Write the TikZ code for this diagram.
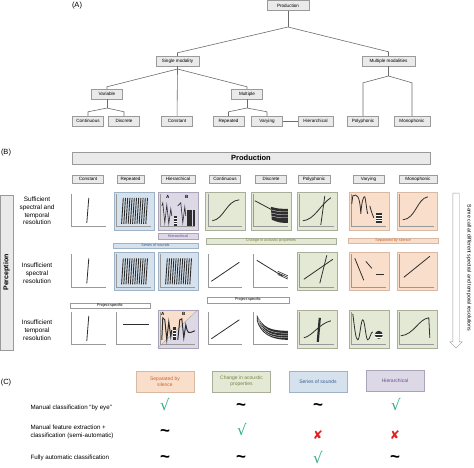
\documentclass[tikz,border=0pt]{standalone}
\usepackage{fontspec}
\setmainfont{Liberation Sans}
\newfontfamily\symfont{DejaVu Sans}
\usetikzlibrary{positioning,shapes.arrows}

\definecolor{boxgray}{HTML}{EAEAEA}
\definecolor{edgegray}{HTML}{9A9A9A}
\definecolor{bluefill}{HTML}{D5E2EE}
\definecolor{blueedge}{HTML}{9FB3C8}
\definecolor{greenfill}{HTML}{E4E9D5}
\definecolor{greenedge}{HTML}{A9AE98}
\definecolor{peachfill}{HTML}{F9DFCB}
\definecolor{peachedge}{HTML}{D9B9A2}
\definecolor{lavfill}{HTML}{DCD8E6}
\definecolor{lavedge}{HTML}{A9A4BA}
\definecolor{ink}{HTML}{2E2E2E}
\definecolor{silencetxt}{HTML}{C8662E}
\definecolor{changetxt}{HTML}{7C8244}
\definecolor{seriestxt}{HTML}{3C5C8C}
\definecolor{hiertxt}{HTML}{6C4C8C}
\definecolor{checkgreen}{HTML}{2FAF7F}
\definecolor{crossred}{HTML}{E02222}

\tikzset{treebox/.style={draw=edgegray, fill=boxgray, font=\fontsize{4.6}{5}\selectfont,
                          inner sep=1pt, minimum height=10pt, minimum width=31pt},
        headbox/.style={treebox, minimum height=8pt},
        treeline/.style={draw=gray!85!black, line width=0.6pt},
        panel/.style={minimum width=40pt, minimum height=38pt, inner sep=0pt},
        bluepanel/.style={panel, draw=blueedge, fill=bluefill},
        greenpanel/.style={panel, draw=greenedge, fill=greenfill},
        peachpanel/.style={panel, draw=peachedge, fill=peachfill},
        lavpanel/.style={panel, draw=lavedge, fill=lavfill},
        tagbar/.style={inner sep=0pt, minimum height=5.5pt, font=\fontsize{3.8}{4}\selectfont},
        rowlabel/.style={font=\fontsize{6.4}{7.8}\selectfont, align=center},
        methodlabel/.style={font=\fontsize{6.2}{7.4}\selectfont, align=left, anchor=west},
        colhead/.style={minimum width=58pt, minimum height=21pt, inner sep=1pt,
                        font=\fontsize{5}{6.2}\selectfont, align=center},
        axisline/.style={draw=gray!80, line width=0.8pt},
        trace/.style={draw=ink, line width=0.8pt},
        okmark/.style={text=checkgreen, font=\symfont\fontsize{15}{15}\selectfont},
        nomark/.style={text=crossred, font=\symfont\fontsize{12}{12}\selectfont},
        approxmark/.style={font=\fontsize{17}{17}\bfseries\selectfont},
        panellabel/.style={font=\fontsize{7.5}{8}\selectfont},
        }

\newcommand\plotaxes{\draw[axisline] (3,2) -- (3,35) -- (37,35);}
\newcommand\seriesmarks{\foreach \i in {0,...,11} \draw[trace, line width=0.9pt] ({9.5+2.2*\i},6) -- ({7.8+2.2*\i},32);}
\newcommand\stackblob[4]{\fill[ink] (#1,#2) rectangle (#3,#4);
    \foreach \k in {1,2,3} \draw[white, line width=0.3pt] (#1,{#2+(#4-#2)*\k/4}) -- (#3,{#2+(#4-#2)*\k/4});}

\begin{document}
\begin{tikzpicture}[x=1pt,y=-1pt]
    \useasboundingbox (0,0) rectangle (474,467);

    \node[panellabel] (labA) at (77,6) {(A)};
    \node[treebox, minimum width=42pt] (prod) at (288,5.5) {Production};
    \node[treebox, minimum width=43pt] (single) at (177.5,61) {Single modality};
    \node[treebox, minimum width=53pt] (multi) at (388.5,61) {Multiple modalities};
    \node[treebox] (variable) at (107,94) {Variable};
    \node[treebox] (multiple) at (247,94) {Multiple};
    \node[treebox] (continuous) at (88,121) {Continuous};
    \node[treebox] (discrete) at (124,121) {Discrete};
    \node[treebox] (constant) at (177,121) {Constant};
    \node[treebox] (repeated) at (228.5,121) {Repeated};
    \node[treebox] (varying) at (267,121) {Varying};
    \node[treebox, minimum width=35pt] (hierarchical) at (315.5,121) {Hierarchical};
    \node[treebox] (polyphonic) at (363,121) {Polyphonic};
    \node[treebox, minimum width=36pt] (monophonic) at (412,121) {Monophonic};

    \coordinate (b0) at (288,27);
    \coordinate (b1) at (177.5,69);
    \coordinate (b2) at (107,108);
    \coordinate (b3) at (247,108);
    \coordinate (b4) at (388.5,76);
    \draw[treeline] (prod) -- (b0);
    \draw[treeline] (b0) -- ([yshift=3pt]single.north) -- (single);
    \draw[treeline] (b0) -- ([yshift=4pt]multi.north) -- (multi);
    \draw[treeline] (single) -- (b1);
    \draw[treeline] (b1) -- ([yshift=2pt]variable.north) -- (variable);
    \draw[treeline] (b1) -- (constant);
    \draw[treeline] (b1) -- ([yshift=2pt]multiple.north) -- (multiple);
    \draw[treeline] (variable) -- (b2);
    \draw[treeline] (b2) -- ([yshift=4pt]continuous.north) -- (continuous);
    \draw[treeline] (b2) -- ([yshift=4pt]discrete.north) -- (discrete);
    \draw[treeline] (multiple) -- (b3);
    \draw[treeline] (b3) -- ([yshift=4pt]repeated.north) -- (repeated);
    \draw[treeline] (b3) -- ([yshift=4pt]varying.north) -- (varying);
    \draw[treeline] (varying) -- (hierarchical);
    \draw[treeline] (multi) -- (b4);
    \draw[treeline] (b4) -- ([yshift=33pt]polyphonic.north) -- (polyphonic);
    \draw[treeline] (b4) -- ([yshift=33pt]monophonic.north) -- (monophonic);

    % (B) production x perception
    \node[panellabel] (labB) at (6,153) {(B)};
    \node[draw=edgegray, fill=boxgray, minimum width=358pt, minimum height=10.5pt,
          font=\fontsize{7.5}{8}\bfseries\selectfont] (prodbar) at (251,158) {Production};
    \node[headbox] (hconst) at (88,179) {Constant};
    \node[headbox, minimum width=27pt] (hrep) at (130.5,179) {Repeated};
    \node[headbox, minimum width=34pt] (hhier) at (178,179) {Hierarchical};
    \node[headbox, minimum width=31pt] (hcont) at (225,179) {Continuous};
    \node[headbox] (hdisc) at (271,179) {Discrete};
    \node[headbox, minimum width=32pt] (hpoly) at (314,179) {Polyphonic};
    \node[headbox] (hvary) at (368.5,179) {Varying};
    \node[headbox, minimum width=38pt] (hmono) at (418,179) {Monophonic};

    \node[draw=edgegray, fill=boxgray, rotate=90, minimum width=155pt, minimum height=11pt,
          font=\fontsize{7}{8}\bfseries\selectfont] (percep) at (6.5,272.5) {Perception};
    \node[rowlabel] (row1) at (37,211) {Sufficient\\spectral and\\temporal\\resolution};
    \node[rowlabel] (row2) at (37,273) {Insufficient\\spectral\\resolution};
    \node[rowlabel] (row3) at (37,330) {Insufficient\\temporal\\resolution};

    \node[single arrow, draw=edgegray, fill=white, shape border rotate=270, inner sep=3pt,
          single arrow head extend=3pt, minimum height=155pt] (scalearrow) at (456,269) {};
    \node[rotate=-90, font=\fontsize{5.2}{6}\selectfont] (samecall) at (469,268)
          {Same call at different spectral and temporal resolutions};

    % row 1
    \node[panel] (constant1) at (89,211) {};
    \node[bluepanel] (repeated1) at (134,211) {};
    \node[lavpanel] (hier1) at (178,211) {};
    \node[greenpanel] (contin1) at (225.5,211) {};
    \node[greenpanel] (discrete1) at (271,211) {};
    \node[greenpanel] (poly1) at (317,211) {};
    \node[peachpanel] (varying1) at (369,211) {};
    \node[peachpanel] (mono1) at (417,211) {};
    \begin{scope}[shift={(constant1.north west)}]
        \plotaxes
        \draw[trace] (20,6) -- (18,31);
    \end{scope}
    \begin{scope}[shift={(repeated1.north west)}]
        \plotaxes \seriesmarks
    \end{scope}
    \begin{scope}[shift={(hier1.north west)}]
        \plotaxes
        \node[font=\fontsize{4.5}{5}\bfseries\selectfont] (hierA1) at (10,5) {A};
        \node[font=\fontsize{4.5}{5}\bfseries\selectfont] (hierB1) at (29,5) {B};
        \draw[trace, line width=0.6pt] (4,14) -- (5,11) -- (7,31) -- (9,13) -- (11,32) -- (13,17) -- (14,24);
        \stackblob{16}{24}{19}{34}
        \draw[trace, line width=0.6pt] (20,14) -- (23,11) -- (25,31) -- (27,15) -- (28,24);
        \foreach \i in {0,...,6} \draw[ink, line width=0.6pt] ({29.5+1.1*\i},18) -- ({29.5+1.1*\i},34);
    \end{scope}
    \begin{scope}[shift={(contin1.north west)}]
        \plotaxes
        \draw[trace] (7,29) .. controls (19,27) and (21,9) .. (34,8);
    \end{scope}
    \begin{scope}[shift={(discrete1.north west)}]
        \plotaxes
        \draw[trace] (4,9) .. controls (10,12) .. (21,18);
        \fill[ink] (20,15) .. controls (28,17) .. (37,17) -- (37,31) .. controls (29,31) .. (21,28) -- cycle;
        \foreach \k in {3,6,9} \draw[white, line width=0.3pt] (20,{15+\k}) .. controls (28,{17+\k}) .. (37,{17+\k});
    \end{scope}
    \begin{scope}[shift={(poly1.north west)}]
        \plotaxes
        \draw[trace] (6,29) .. controls (18,28) and (24,12) .. (34,6);
        \draw[trace] (28,4) -- (24,33);
    \end{scope}
    \begin{scope}[shift={(varying1.north west)}]
        \plotaxes
        \draw[trace] (3,12) -- (4,4) .. controls (8,2) and (11,3) .. (12,22) .. controls (13,8) and (15,4) .. (16,5)
            .. controls (17,8) and (18,20) .. (19,22);
        \draw[trace] (21,14) .. controls (22,18) and (24,24) .. (25,26);
        \stackblob{27}{21}{33}{31}
    \end{scope}
    \begin{scope}[shift={(mono1.north west)}]
        \plotaxes
        \draw[trace] (6,28) .. controls (19,27) and (20,7) .. (31,5);
    \end{scope}

    \node[tagbar, draw=lavedge, fill=lavfill, text=hiertxt, minimum width=40pt] (tagHier) at (178,236) {Hierarchical};
    \node[tagbar, draw=blueedge, fill=bluefill, text=seriestxt, minimum width=85pt] (tagSeries) at (155.5,245.5) {Series of sounds};
    \node[tagbar, draw=greenedge, fill=greenfill, text=changetxt, minimum width=130pt] (tagChange) at (271,241) {Change in acoustic properties};
    \node[tagbar, draw=peachedge, fill=peachfill, text=silencetxt, minimum width=90pt] (tagSilence) at (393,240.5) {Separated by silence};

    % row 2
    \node[panel] (constant2) at (89,271.5) {};
    \node[bluepanel] (repeated2) at (134,271.5) {};
    \node[bluepanel] (hier2) at (178,271.5) {};
    \node[panel] (contin2) at (225.5,271.5) {};
    \node[panel] (discrete2) at (271,271.5) {};
    \node[greenpanel] (poly2) at (317,271.5) {};
    \node[peachpanel] (varying2) at (369,271.5) {};
    \node[peachpanel] (mono2) at (417,271.5) {};
    \begin{scope}[shift={(constant2.north west)}]
        \plotaxes
        \draw[trace] (20,6) -- (18,31);
    \end{scope}
    \begin{scope}[shift={(repeated2.north west)}]
        \plotaxes \seriesmarks
    \end{scope}
    \begin{scope}[shift={(hier2.north west)}]
        \plotaxes \seriesmarks
    \end{scope}
    \begin{scope}[shift={(contin2.north west)}]
        \plotaxes
        \draw[trace] (6,29) -- (34,10);
    \end{scope}
    \begin{scope}[shift={(discrete2.north west)}]
        \plotaxes
        \draw[trace] (6,8) -- (32,24);
        \foreach \k in {0,1.6,3.2} \draw[trace, line width=0.6pt] (27,{19+\k}) -- (37,{23.5+\k});
    \end{scope}
    \begin{scope}[shift={(poly2.north west)}]
        \plotaxes
        \draw[trace] (7,27) -- (36,7);
        \draw[trace] (30,3) -- (23,31);
    \end{scope}
    \begin{scope}[shift={(varying2.north west)}]
        \plotaxes
        \draw[trace] (6,6) -- (15,28);
        \draw[trace] (17,9) -- (23,16);
        \draw[trace] (27,22) -- (35,22);
    \end{scope}
    \begin{scope}[shift={(mono2.north west)}]
        \plotaxes
        \draw[trace] (7,25) -- (33,4);
    \end{scope}

    \node[tagbar, draw=edgegray, fill=white, minimum width=80pt] (tagProj1) at (110,305.5) {Project-specific};
    \node[tagbar, draw=edgegray, fill=white, minimum width=82pt] (tagProj2) at (248,300) {Project-specific};

    % row 3
    \node[panel] (constant3) at (89,329) {};
    \node[panel] (repeated3) at (134,329) {};
    \node[lavpanel] (hier3) at (178,329) {};
    \node[panel] (contin3) at (225.5,329) {};
    \node[panel] (discrete3) at (271,329) {};
    \node[greenpanel] (poly3) at (317,329) {};
    \node[greenpanel] (varying3) at (369,329) {};
    \node[greenpanel] (mono3) at (417,329) {};
    \begin{scope}[shift={(constant3.north west)}]
        \plotaxes
        \draw[trace] (20,6) -- (18,31);
    \end{scope}
    \begin{scope}[shift={(repeated3.north west)}]
        \plotaxes
        \draw[trace] (9,15) -- (35,15);
    \end{scope}
    \begin{scope}[shift={(hier3.north west)}]
        \fill[peachfill] (0,0) -- (40,0) -- (0,38) -- cycle;
        \draw[gray!70] (0,38) -- (40,0);
        \draw[lavedge] (0,0) rectangle (40,38);
        \plotaxes
        \node[font=\fontsize{4.5}{5}\bfseries\selectfont] (hierA3) at (5,4) {A};
        \node[font=\fontsize{4.5}{5}\bfseries\selectfont] (hierB3) at (26,4) {B};
        \draw[trace, line width=1pt] (4,30) -- (5,8) -- (7,10) -- (9,30) -- (11,12) -- (13,27) -- (14,20);
        \stackblob{15}{17}{18}{30}
        \draw[trace, line width=1pt] (20,30) -- (22,10) -- (24,9) -- (26,28) -- (28,15) .. controls (30,24) .. (37,21);
    \end{scope}
    \begin{scope}[shift={(contin3.north west)}]
        \plotaxes
        \draw[trace] (6,29) -- (34,10);
    \end{scope}
    \begin{scope}[shift={(discrete3.north west)}]
        \plotaxes
        \fill[ink] (6,5) .. controls (12,18) and (20,21) .. (37,21) -- (37,30) .. controls (20,30) and (10,24) .. (6,11) -- cycle;
        \foreach \k in {2.5,5,7} \draw[white, line width=0.3pt] (7,{6+\k*0.7}) .. controls (13,{18+\k}) and (20,{21+\k}) .. (37,{21+\k});
    \end{scope}
    \begin{scope}[shift={(poly3.north west)}]
        \plotaxes
        \draw[trace] (7,28) .. controls (16,26) and (22,14) .. (34,11);
        \draw[trace, line width=2.2pt] (23,8) -- (21,32);
    \end{scope}
    \begin{scope}[shift={(varying3.north west)}]
        \plotaxes
        \draw[trace] (4,4) .. controls (6,20) and (7,30) .. (9,30) .. controls (11,30) and (12,10) .. (14,10)
            .. controls (16,10) and (17,30) .. (19,30) .. controls (21,30) and (22,22) .. (24,22);
        \fill[ink] (30,25) ellipse [x radius=4pt, y radius=4pt];
        \draw[white, line width=0.3pt] (26,24) -- (34,24) (26,27) -- (34,27);
    \end{scope}
    \begin{scope}[shift={(mono3.north west)}]
        \plotaxes
        \draw[trace] (4,26) .. controls (17,25) and (22,9) .. (32,8) -- (33,28);
    \end{scope}

    % (C) methods
    \node[panellabel] (labC) at (6,383) {(C)};
    \node[colhead, draw=peachedge, fill=peachfill, text=silencetxt] (cSilence) at (165,381.5) {Separated by\\silence};
    \node[colhead, draw=greenedge, fill=greenfill, text=changetxt] (cChange) at (241.5,381.5) {Change in acoustic\\properties};
    \node[colhead, draw=blueedge, fill=bluefill, text=seriestxt] (cSeries) at (318,381.5) {Series of sounds};
    \node[colhead, draw=lavedge, fill=lavfill, text=hiertxt] (cHier) at (395,380.5) {Hierarchical};

    \node[methodlabel] (mEye) at (27,408) {Manual classification ``by eye''};
    \node[methodlabel] (mSemi) at (27,432) {Manual feature extraction +\\classification (semi-automatic)};
    \node[methodlabel] (mAuto) at (27,458) {Fully automatic classification};

    \node[okmark] (eye1) at (165,405) {√};
    \node[approxmark] (eye2) at (241,407) {\textasciitilde};
    \node[approxmark] (eye3) at (318,407) {\textasciitilde};
    \node[okmark] (eye4) at (396,405) {√};
    \node[approxmark] (semi1) at (165,433) {\textasciitilde};
    \node[okmark] (semi2) at (242,430) {√};
    \node[nomark] (semi3) at (318,435) {✘};
    \node[nomark] (semi4) at (395,435) {✘};
    \node[approxmark] (auto1) at (165,459) {\textasciitilde};
    \node[approxmark] (auto2) at (241,459) {\textasciitilde};
    \node[okmark] (auto3) at (318,458) {√};
    \node[approxmark] (auto4) at (395,459) {\textasciitilde};
\end{tikzpicture}
\end{document}
